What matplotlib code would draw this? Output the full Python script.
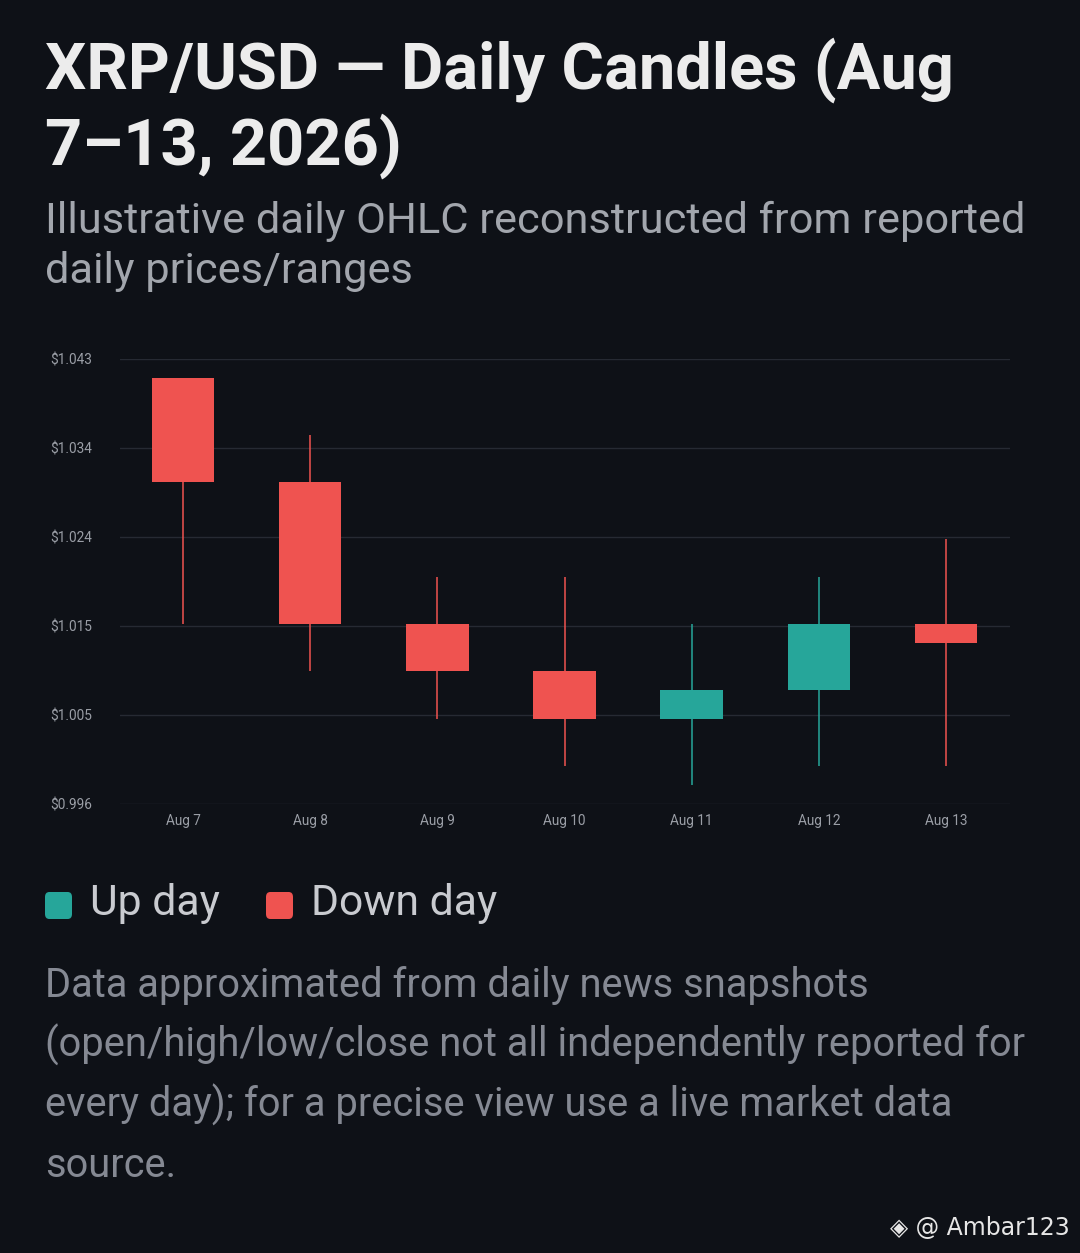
import numpy as np
import matplotlib
matplotlib.use("Agg")
import matplotlib.pyplot as plt
from matplotlib.patches import FancyBboxPatch

# Data
days = ["Aug 7", "Aug 8", "Aug 9", "Aug 10", "Aug 11", "Aug 12", "Aug 13"]
opens = [1.041, 1.030, 1.015, 1.010, 1.005, 1.008, 1.015]
highs = [1.041, 1.035, 1.020, 1.020, 1.015, 1.020, 1.024]
lows = [1.015, 1.010, 1.005, 1.000, 0.998, 1.000, 1.000]
closes = [1.030, 1.015, 1.010, 1.005, 1.008, 1.015, 1.013]
y_min, y_max = 0.996, 1.043

BG = "#0e1117"
UP = "#26a69a"
DOWN = "#ef5350"
plt.rcParams['font.family'] = ['Roboto', 'DejaVu Sans']

W, H = 1080, 1253
fig = plt.figure(figsize=(W / 100, H / 100), dpi=100, facecolor=BG)

# title + subtitle
fig.text(45 / W, 1 - 89 / H, "XRP/USD \u2014 Daily Candles (Aug", fontsize=46.8,
         fontweight='bold', color="#ececec", va='baseline')
fig.text(45 / W, 1 - 165 / H, "7\u201313, 2026)", fontsize=46.8,
         fontweight='bold', color="#ececec", va='baseline')
fig.text(45 / W, 1 - 233 / H, "Illustrative daily OHLC reconstructed from reported",
         fontsize=31.2, color="#a2a6ad", va='baseline')
fig.text(45 / W, 1 - 283 / H, "daily prices/ranges",
         fontsize=31.2, color="#a2a6ad", va='baseline')

# candles
ax = fig.add_axes([119.5 / W, 449 / H, 890 / W, 445 / H])
ax.set_facecolor(BG)
x = np.arange(len(days))
for i in x:
    col = UP if closes[i] >= opens[i] else DOWN
    ax.vlines(i, lows[i], highs[i], color=col, linewidth=1.1, zorder=2)
    lo = min(opens[i], closes[i])
    ax.bar(i, abs(closes[i] - opens[i]), bottom=lo, width=0.49,
           color=col, edgecolor='none', zorder=3)

ax.set_xlim(-0.5, len(days) - 0.5)
ax.set_ylim(y_min, y_max)
yt = np.linspace(y_min, y_max, 6)
ax.set_yticks(yt)
ax.set_yticklabels(["$%.3f" % v for v in yt])
ax.set_xticks(x)
ax.set_xticklabels(days)
ax.grid(axis='y', color="#262a33", linewidth=1)
ax.set_axisbelow(True)
for s in ax.spines.values():
    s.set_visible(False)
ax.tick_params(axis='y', length=0, pad=19.5, labelsize=9.8, labelcolor="#9a9ea6")
ax.tick_params(axis='x', length=0, pad=7, labelsize=9.8, labelcolor="#9a9ea6")

# legend
for (x0, col, txt) in [(45, UP, "Up day"), (266, DOWN, "Down day")]:
    fig.patches.append(FancyBboxPatch((x0 / W, 1 - 919 / H), 27 / W, 27 / H,
                                      boxstyle="round,pad=0,rounding_size=0.004",
                                      transform=fig.transFigure, facecolor=col,
                                      edgecolor='none'))
    fig.text((x0 + 45) / W, 1 - 915 / H, txt, fontsize=30.8, color="#c9cbd0",
             va='baseline')

# footnote
notes = ["Data approximated from daily news snapshots",
         "(open/high/low/close not all independently reported for",
         "every day); for a precise view use a live market data",
         "source."]
for k, line in enumerate(notes):
    fig.text(45 / W, 1 - (997 + 60 * k) / H, line, fontsize=28.7,
             color="#858993", va='baseline')

# watermark
fig.text(1070 / W, 1 - 1235 / H, "\u25c8 @ Ambar123", fontsize=17,
         color="#e6e6e6", ha='right', va='baseline',
         family=['DejaVu Sans'])

fig.savefig("out.png", dpi=100, facecolor=BG)
